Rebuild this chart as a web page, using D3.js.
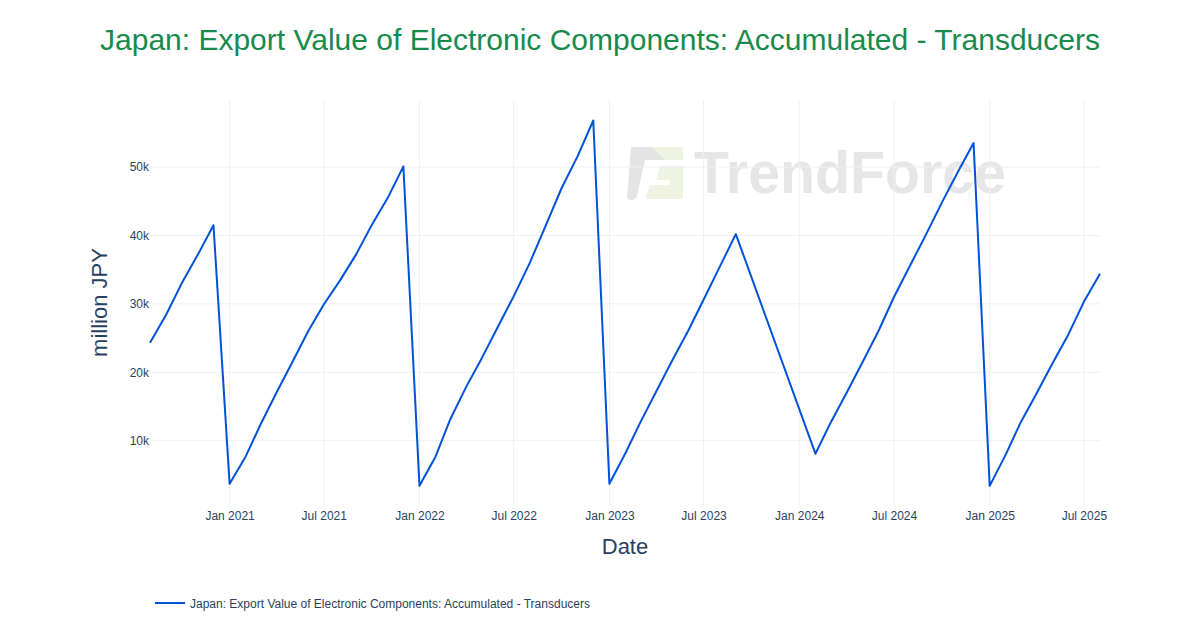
<!DOCTYPE html>
<html>
<head>
<meta charset="utf-8">
<script src="https://cdn.jsdelivr.net/npm/d3@7"></script>
<style>
  html, body { margin: 0; padding: 0; background: #fff; }
  svg { display: block; font-family: "Liberation Sans", Arial, sans-serif; }
</style>
</head>
<body>
<svg id="chart" width="1200" height="630"></svg>
<script>
// ---- data ----
const months = [
  "2020-08","2020-09","2020-10","2020-11","2020-12",
  "2021-01","2021-02","2021-03","2021-04","2021-05","2021-06","2021-07","2021-08","2021-09","2021-10","2021-11","2021-12",
  "2022-01","2022-02","2022-03","2022-04","2022-05","2022-06","2022-07","2022-08","2022-09","2022-10","2022-11","2022-12",
  "2023-01","2023-02","2023-03","2023-04","2023-05","2023-06","2023-07","2023-08","2023-09","2023-10","2023-11","2023-12",
  "2024-01","2024-02","2024-03","2024-04","2024-05","2024-06","2024-07","2024-08","2024-09","2024-10","2024-11","2024-12",
  "2025-01","2025-02","2025-03","2025-04","2025-05","2025-06","2025-07","2025-08"
];
// million JPY (accumulated); null = no data reported
const values = [
  24300, 28400, 33000, 37200, 41500,
  3700, 7700, 12300, 17000, 21400, 26000, 29900, 33400, 37200, 41500, 45500, 50100,
  3400, 7700, 13100, 17900, 22100, 26700, 31100, 36000, 41500, 46900, 51600, 56800,
  3700, 8200, 12600, 17200, 21600, 26000, 30600, 35400, 40200, null, null, null,
  null, 8100, 12600, 17000, 21400, 26000, 31000, 35600, 40200, 44800, 49300, 53500,
  3400, 8000, 12600, 16900, 21200, 25500, 30300, 34400
];
const yTickValues = [10000, 20000, 30000, 40000, 50000];
const xTickDates = ["2021-01","2021-07","2022-01","2022-07","2023-01","2023-07","2024-01","2024-07","2025-01","2025-07"];
const seriesName = "Japan: Export Value of Electronic Components: Accumulated - Transducers";
const chartTitle = "Japan: Export Value of Electronic Components: Accumulated - Transducers";

// ---- layout ----
const svg = d3.select("#chart");
const W = 1200, H = 630;
const m = { left: 150, right: 100, top: 100, bottom: 125 };
const plotW = W - m.left - m.right, plotH = H - m.top - m.bottom;
const parse = d3.timeParse("%Y-%m");
const data = months.map((d, i) => ({ date: parse(d), value: values[i] }));
const present = data.filter(d => d.value !== null);

const xs = d3.scaleTime().domain(d3.extent(data, d => d.date)).range([m.left, m.left + plotW]);
const y = d3.scaleLinear().domain([600, 59800]).range([m.top + plotH, m.top]);

const textColor = "#2a3f5f";
const gridColor = "#f0f0f0";

// watermark
const wm = svg.append("g");
wm.append("path")
  .attr("d", "M631,147 L680,147 L676,160 L645,160 L637,196 Q635,201 630,200 L627,198 Z")
  .attr("fill", "#e4e4e4");
wm.append("path")
  .attr("d", "M652,147 L683,147 L683,160 L665,160 Z M660,166 L683,166 L683,199 L645,199 L650,185 L670,185 L670,180 L656,180 Z")
  .attr("fill", "#eef3e2");
wm.append("text")
  .attr("x", 694).attr("y", 193)
  .attr("font-size", 60).attr("font-weight", "bold")
  .attr("textLength", 312).attr("lengthAdjust", "spacingAndGlyphs")
  .attr("fill", "#e6e6e6")
  .text("TrendForce");

// grid
const gGrid = svg.append("g");
gGrid.selectAll("line.vx").data(xTickDates.map(parse)).enter().append("line")
  .attr("x1", d => xs(d)).attr("x2", d => xs(d))
  .attr("y1", m.top).attr("y2", m.top + plotH)
  .attr("stroke", gridColor).attr("stroke-width", 1);
gGrid.selectAll("line.hy").data(yTickValues).enter().append("line")
  .attr("x1", m.left).attr("x2", m.left + plotW)
  .attr("y1", d => y(d)).attr("y2", d => y(d))
  .attr("stroke", gridColor).attr("stroke-width", 1);

// axes (labels only, Plotly style)
const xAxis = d3.axisBottom(xs)
  .tickValues(xTickDates.map(parse))
  .tickFormat(d3.timeFormat("%b %Y"))
  .tickSize(0).tickPadding(6);
svg.append("g").attr("transform", `translate(0,${m.top + plotH})`).call(xAxis)
  .call(g => g.select(".domain").remove())
  .call(g => g.selectAll("text").attr("fill", textColor).attr("font-size", 12)
    .attr("font-family", "Liberation Sans, Arial, sans-serif"));

const yAxis = d3.axisLeft(y)
  .tickValues(yTickValues)
  .tickFormat(d => d3.format("~s")(d))
  .tickSize(0).tickPadding(1);
svg.append("g").attr("transform", `translate(${m.left},0)`).call(yAxis)
  .call(g => g.select(".domain").remove())
  .call(g => g.selectAll("text").attr("fill", textColor).attr("font-size", 12)
    .attr("font-family", "Liberation Sans, Arial, sans-serif"));

// line
const line = d3.line().x(d => xs(d.date)).y(d => y(d.value));
svg.append("path").datum(present)
  .attr("d", line)
  .attr("fill", "none")
  .attr("stroke", "#0052d9")
  .attr("stroke-width", 2)
  .attr("stroke-linejoin", "round");

// title
svg.append("text")
  .attr("x", 600).attr("y", 50)
  .attr("text-anchor", "middle")
  .attr("font-size", 30)
  .attr("fill", "#178a4c")
  .text(chartTitle);

// axis titles
svg.append("text")
  .attr("x", 625).attr("y", 554)
  .attr("text-anchor", "middle")
  .attr("font-size", 22)
  .attr("fill", textColor)
  .text("Date");
svg.append("text")
  .attr("transform", `translate(107,${m.top + plotH / 2}) rotate(-90)`)
  .attr("text-anchor", "middle")
  .attr("font-size", 22)
  .attr("fill", textColor)
  .text("million JPY");

// legend
const lg = svg.append("g");
lg.append("line").attr("x1", 155).attr("x2", 185).attr("y1", 603).attr("y2", 603)
  .attr("stroke", "#0052d9").attr("stroke-width", 2);
lg.append("text").attr("x", 190).attr("y", 607.5)
  .attr("font-size", 12).attr("fill", textColor)
  .text(seriesName);
</script>
</body>
</html>
